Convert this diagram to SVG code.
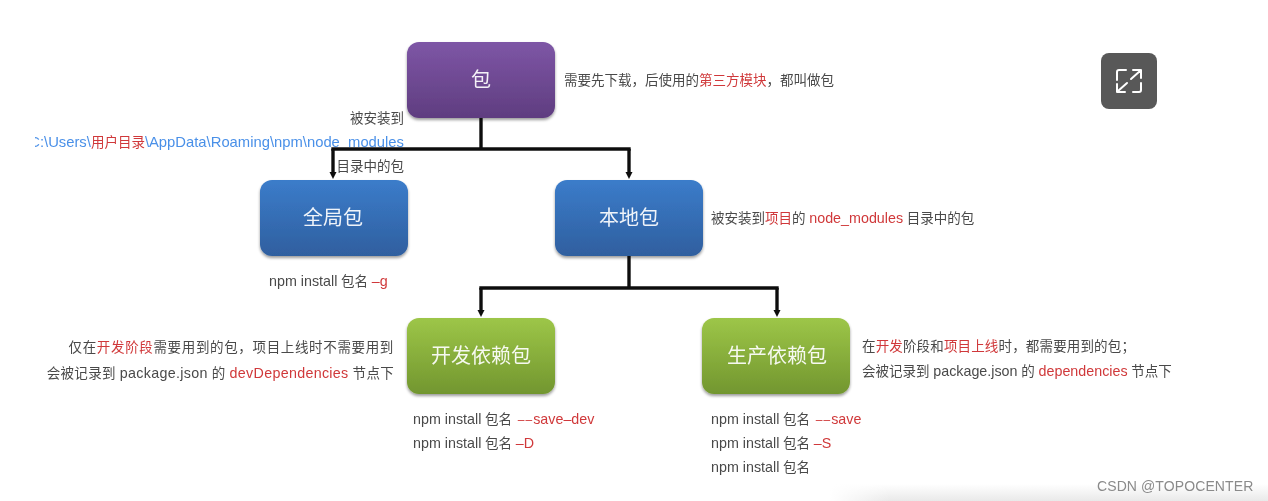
<svg xmlns="http://www.w3.org/2000/svg" width="1268" height="501" viewBox="0 0 1268 501">
<style>
text{font-family:"Liberation Sans","Noto Sans CJK SC",sans-serif;font-size:13.5px;fill:#4a4a4a}
.l{font-size:14.3px}
.p{font-size:14.8px}
.d{font-size:12px;letter-spacing:1px}
.r{fill:#d0393a}
.b{fill:#4a90e8}
.n{fill:#fff;font-size:20px;text-anchor:middle;fill-opacity:.92}
.e{text-anchor:end}
.w{fill:none;stroke:#111;stroke-width:3.4;stroke-linejoin:miter}
</style>
<defs>
<linearGradient id="gp" x1="0" y1="0" x2="0" y2="1"><stop offset="0" stop-color="#7e56a6"/><stop offset="1" stop-color="#5f3d80"/></linearGradient>
<linearGradient id="gb" x1="0" y1="0" x2="0" y2="1"><stop offset="0" stop-color="#3b7cca"/><stop offset="1" stop-color="#2f5f9f"/></linearGradient>
<linearGradient id="gg" x1="0" y1="0" x2="0" y2="1"><stop offset="0" stop-color="#9dc648"/><stop offset="1" stop-color="#72962f"/></linearGradient>
<linearGradient id="gf" x1="0" y1="0" x2="0" y2="1"><stop offset="0" stop-color="#fff"/><stop offset="1" stop-color="#e9e9e9"/></linearGradient>
<linearGradient id="gfx" x1="0" y1="0" x2="1" y2="0"><stop offset="0" stop-color="#fff"/><stop offset="1" stop-color="#fff" stop-opacity="0"/></linearGradient>
<filter id="sh" x="-10%" y="-10%" width="120%" height="125%"><feGaussianBlur in="SourceAlpha" stdDeviation="1.5"/><feOffset dy="2"/><feComponentTransfer><feFuncA type="linear" slope=".4"/></feComponentTransfer><feMerge><feMergeNode/><feMergeNode in="SourceGraphic"/></feMerge></filter>
<filter id="soft" x="-5%" y="-5%" width="110%" height="110%"><feGaussianBlur stdDeviation="0.5"/></filter>
<clipPath id="cp"><rect x="35" y="130" width="380" height="24"/></clipPath>
<marker id="ah" markerWidth="10" markerHeight="10" refX="1" refY="5" orient="auto" markerUnits="userSpaceOnUse"><path d="M0,1.500L7,5L0,8.500Z" fill="#111"/></marker>
</defs>
<rect width="1268" height="501" fill="#fff"/>
<rect x="830" y="484" width="438" height="17" fill="url(#gf)"/>
<rect x="830" y="484" width="60" height="17" fill="url(#gfx)"/>
<g filter="url(#soft)">
<g id="node-pkg"><rect x="407" y="42" width="148" height="76" rx="12" fill="url(#gp)" filter="url(#sh)"/><text class="n" x="481" y="87">包</text></g>
<g id="node-global"><rect x="260" y="180" width="148" height="76" rx="12" fill="url(#gb)" filter="url(#sh)"/><text class="n" x="333" y="225">全局包</text></g>
<g id="node-local"><rect x="555" y="180" width="148" height="76" rx="12" fill="url(#gb)" filter="url(#sh)"/><text class="n" x="629" y="225">本地包</text></g>
<g id="node-dev"><rect x="407" y="318" width="148" height="76" rx="12" fill="url(#gg)" filter="url(#sh)"/><text class="n" x="481" y="363">开发依赖包</text></g>
<g id="node-prod"><rect x="702" y="318" width="148" height="76" rx="12" fill="url(#gg)" filter="url(#sh)"/><text class="n" x="777" y="363">生产依赖包</text></g>
<g id="labels">
<text x="564" y="85">需要先下载，后使用的<tspan class="r">第三方模块</tspan>，都叫做包</text>
<text class="e" x="404" y="123">被安装到</text>
<g clip-path="url(#cp)"><text class="e b" x="404" y="147"><tspan class="p">C:\Users\</tspan><tspan class="r">用户目录</tspan><tspan class="p">\AppData\Roaming\npm\node_modules</tspan></text></g>
<text class="e" x="404" y="171">目录中的包</text>
<text x="711" y="223">被安装到<tspan class="r">项目</tspan>的 <tspan class="r l">node_modules</tspan> 目录中的包</text>
<text x="269" y="286"><tspan class="l">npm install</tspan> 包名 <tspan class="r l">–g</tspan></text>
<text class="e" x="394" y="352" style="letter-spacing:.65px">仅在<tspan class="r">开发阶段</tspan>需要用到的包，项目上线时不需要用到</text>
<text class="e" x="394" y="378" style="letter-spacing:.3px">会被记录到 <tspan class="l">package.json</tspan> 的 <tspan class="r l">devDependencies</tspan> 节点下</text>
<text x="862" y="351" style="letter-spacing:.15px">在<tspan class="r">开发</tspan>阶段和<tspan class="r">项目上线</tspan>时，都需要用到的包；</text>
<text x="862" y="376">会被记录到 <tspan class="l">package.json</tspan> 的 <tspan class="r l">dependencies</tspan> 节点下</text>
<text x="413" y="424"><tspan class="l">npm install</tspan> 包名 <tspan class="r d" dx="2">––</tspan><tspan class="r l">save–dev</tspan></text>
<text x="413" y="448"><tspan class="l">npm install</tspan> 包名 <tspan class="r l">–D</tspan></text>
<text x="711" y="424"><tspan class="l">npm install</tspan> 包名 <tspan class="r d" dx="2">––</tspan><tspan class="r l">save</tspan></text>
<text x="711" y="448"><tspan class="l">npm install</tspan> 包名 <tspan class="r l">–S</tspan></text>
<text x="711" y="472"><tspan class="l">npm install</tspan> 包名</text>
</g>
<g id="connectors">
<path class="w" d="M481 118V149M331.300 149H630.700"/>
<path class="w" d="M333 149V173" marker-end="url(#ah)"/>
<path class="w" d="M629 149V173" marker-end="url(#ah)"/>
<path class="w" d="M629 256V288M479.300 288H778.700"/>
<path class="w" d="M481 288V311" marker-end="url(#ah)"/>
<path class="w" d="M777 288V311" marker-end="url(#ah)"/>
</g>
</g>
<rect x="1101" y="53" width="56" height="56" rx="8" fill="#585858"/>
<g fill="none" stroke="#fff" stroke-width="2" stroke-linecap="round" stroke-linejoin="round">
<path d="M1126 70H1119Q1117 70 1117 72V80"/>
<path d="M1133 92H1139Q1141 92 1141 90V83"/>
<path d="M1131 79L1140 71M1133 70H1141V78"/>
<path d="M1127 83L1118 91M1117 84V92H1125"/>
</g>
<text x="1097" y="491" style="font-size:14px;fill:#8a8a8a;letter-spacing:.1px">CSDN @TOPOCENTER</text>
</svg>
